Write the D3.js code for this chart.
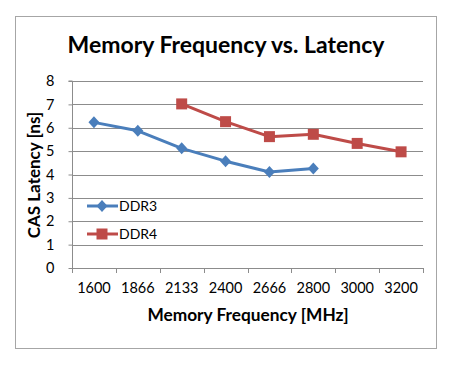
<!DOCTYPE html>
<html><head><meta charset="utf-8">
<script src="https://cdn.jsdelivr.net/npm/d3@7"></script>
<style>body{margin:0;background:#fff}svg{display:block}</style>
</head><body>
<svg id="c" width="474" height="366"></svg>
<script>
const categories = ["1600","1866","2133","2400","2666","2800","3000","3200"];
const ddr3Cats = ["1600","1866","2133","2400","2666","2800"];
const ddr3Values = [6.23, 5.87, 5.12, 4.57, 4.11, 4.26];
const ddr4Cats = ["2133","2400","2666","2800","3000","3200"];
const ddr4Values = [7.02, 6.26, 5.62, 5.72, 5.33, 4.97];
const yTicks = [0,1,2,3,4,5,6,7,8];
const seriesNames = ["DDR3","DDR4"];
const colors = ["#4A7EBB","#BE4B48"];

const svg = d3.select("#c");
const font = "Lato, 'Open Sans', sans-serif";
const m = {l:72, r:423, t:81, b:268};

svg.append("rect").attr("x",15.5).attr("y",16.5).attr("width",421).attr("height",332)
  .attr("fill","#fff").attr("stroke","#A6A6A6").attr("stroke-width",1);

const x = d3.scaleBand().domain(categories).range([m.l,m.r]);
const y = d3.scaleLinear().domain([0,8]).range([m.b,m.t]);

// gridlines
svg.append("g").selectAll("line").data(yTicks.filter(d=>d>0)).join("line")
  .attr("x1",m.l).attr("x2",m.r).attr("y1",d=>Math.round(y(d))+0.5).attr("y2",d=>Math.round(y(d))+0.5)
  .attr("stroke","#8C8C8C").attr("stroke-width",1);

// y axis
const ya = svg.append("g").attr("transform",`translate(${m.l+0.5},0)`)
  .call(d3.axisLeft(y).tickValues(yTicks).tickSize(4).tickPadding(14).tickFormat(d3.format("d")));
ya.select(".domain").attr("stroke","#8C8C8C").attr("d",`M-4,${m.t}H0V${m.b}`);
ya.selectAll(".tick line").attr("stroke","#8C8C8C");
ya.selectAll(".tick text").attr("font-family",font).attr("font-size",14.5).attr("fill","#000");

// x axis
const xa = svg.append("g").attr("transform",`translate(0,${Math.round(m.b)+0.5})`)
  .call(d3.axisBottom(x).tickSize(0).tickPadding(14));
xa.select(".domain").attr("stroke","#8C8C8C").attr("d",`M${m.l},0H${m.r}`);
xa.selectAll(".tick text").attr("font-family",font).attr("font-size",14.5).attr("fill","#000");
svg.append("g").selectAll("line").data(categories.concat(["end"])).join("line")
  .attr("x1",(d,i)=>Math.round(m.l+i*x.step())+0.5).attr("x2",(d,i)=>Math.round(m.l+i*x.step())+0.5)
  .attr("y1",m.b).attr("y2",m.b+5).attr("stroke","#8C8C8C");

const line = d3.line().x(d=>x(d[0])+x.bandwidth()/2).y(d=>y(d[1]));
const s3 = ddr3Cats.map((c,i)=>[c,ddr3Values[i]]);
const s4 = ddr4Cats.map((c,i)=>[c,ddr4Values[i]]);

const diamond = "M0,-6L5.5,0L0,6L-5.5,0Z";
const square = "M-5.5,-5.5H5.5V5.5H-5.5Z";
function drawSeries(data, color, type){
  svg.append("path").datum(data).attr("d",line).attr("fill","none")
    .attr("stroke",color).attr("stroke-width",3).attr("stroke-linejoin","round");
  svg.append("g").selectAll("path").data(data).join("path")
    .attr("d", type==="d" ? diamond : square)
    .attr("fill",color).attr("transform",d=>`translate(${x(d[0])+x.bandwidth()/2},${y(d[1])})`);
}
drawSeries(s4, colors[1], "s");
drawSeries(s3, colors[0], "d");

// legend
const leg = [[206,"d"],[234,"s"]];
leg.forEach((l,i)=>{
  const g = svg.append("g");
  g.append("line").attr("x1",87).attr("x2",118).attr("y1",l[0]).attr("y2",l[0])
    .attr("stroke",colors[i]).attr("stroke-width",3);
  g.append("path").attr("transform",`translate(102,${l[0]})`)
    .attr("d", l[1]==="d" ? diamond : square).attr("fill",colors[i]);
  g.append("text").attr("x",119).attr("y",l[0]+5).attr("font-family",font).attr("font-size",14)
    .attr("fill","#000").text(seriesNames[i]);
});

// titles
svg.append("text").attr("x",226).attr("y",53).attr("text-anchor","middle")
  .attr("font-family",font).attr("font-weight","bold").attr("font-size",23).text("Memory Frequency vs. Latency");
svg.append("text").attr("x",248).attr("y",321).attr("text-anchor","middle")
  .attr("font-family",font).attr("font-weight","bold").attr("font-size",17.3).text("Memory Frequency [MHz]");
svg.append("text").attr("transform","translate(40,175) rotate(-90)").attr("text-anchor","middle")
  .attr("font-family",font).attr("font-weight","bold").attr("font-size",17).text("CAS Latency [ns]");
</script>
</body></html>
